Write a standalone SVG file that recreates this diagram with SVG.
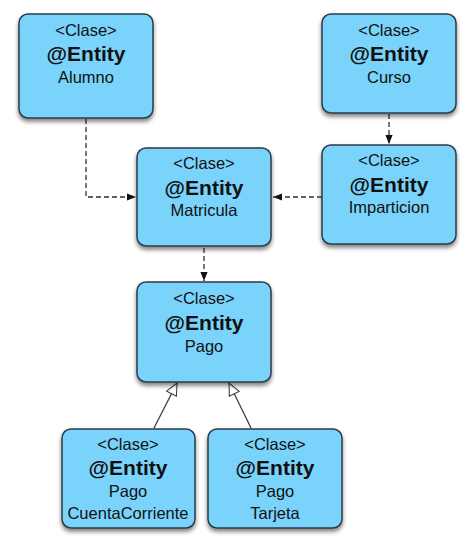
<svg xmlns="http://www.w3.org/2000/svg" width="474" height="550" viewBox="0 0 474 550">
<defs>
<filter id="sh" x="-20%" y="-20%" width="140%" height="140%">
<feGaussianBlur in="SourceAlpha" stdDeviation="2"/>
<feOffset dx="0" dy="3" result="b"/>
<feComponentTransfer><feFuncA type="linear" slope="0.5"/></feComponentTransfer>
<feMerge><feMergeNode/><feMergeNode in="SourceGraphic"/></feMerge>
</filter>
<marker id="ah" viewBox="0 0 10 10" refX="10" refY="5" markerWidth="9" markerHeight="9" markerUnits="userSpaceOnUse" orient="auto">
<path d="M0,1 L10,5 L0,9 Z" fill="#111"/>
</marker>
<marker id="tri" viewBox="0 0 14 14" refX="13" refY="7" markerWidth="14" markerHeight="14" markerUnits="userSpaceOnUse" orient="auto">
<path d="M1,1.5 L13,7 L1,12.5 Z" fill="#fff" stroke="#333" stroke-width="1"/>
</marker>
</defs>
<style>
.box{fill:#7ad3fb;stroke:#2b3b48;stroke-width:1.5;filter:url(#sh)}
.t{font-family:"Liberation Sans",Arial,sans-serif;font-size:16.5px;fill:#111;text-anchor:middle}
.b{font-family:"Liberation Sans",Arial,sans-serif;font-size:21px;font-weight:bold;fill:#111;text-anchor:middle}
.dash{fill:none;stroke:#333;stroke-width:1.3;stroke-dasharray:5,3;marker-end:url(#ah)}
.gen{fill:none;stroke:#333;stroke-width:1.2;marker-end:url(#tri)}
</style>
<rect width="474" height="550" fill="#fff"/>
<g id="connectors">
<path class="dash" d="M86,119 V197 H136"/>
<path class="dash" d="M389,114 V144"/>
<path class="dash" d="M322,197 H273"/>
<path class="dash" d="M204,248 V281"/>
<path class="gen" d="M154,428 L177,383"/>
<path class="gen" d="M251,428 L229,383"/>
</g>
<g id="alumno">
<rect class="box" x="19" y="14" width="134" height="104" rx="9"/>
<text class="t" x="86" y="36">&lt;Clase&gt;</text>
<text class="b" x="86" y="61">@Entity</text>
<text class="t" x="86" y="83">Alumno</text>
</g>
<g id="curso">
<rect class="box" x="322" y="14" width="134" height="99" rx="9"/>
<text class="t" x="389" y="36">&lt;Clase&gt;</text>
<text class="b" x="389" y="61">@Entity</text>
<text class="t" x="389" y="83">Curso</text>
</g>
<g id="matricula">
<rect class="box" x="137" y="148" width="134" height="98" rx="9"/>
<text class="t" x="204" y="169">&lt;Clase&gt;</text>
<text class="b" x="204" y="195">@Entity</text>
<text class="t" x="204" y="216">Matricula</text>
</g>
<g id="imparticion">
<rect class="box" x="322" y="145" width="134" height="99" rx="9"/>
<text class="t" x="389" y="166">&lt;Clase&gt;</text>
<text class="b" x="389" y="192">@Entity</text>
<text class="t" x="389" y="213">Imparticion</text>
</g>
<g id="pago">
<rect class="box" x="137" y="282" width="134" height="100" rx="9"/>
<text class="t" x="204" y="304">&lt;Clase&gt;</text>
<text class="b" x="204" y="330">@Entity</text>
<text class="t" x="204" y="352">Pago</text>
</g>
<g id="pagocuentacorriente">
<rect class="box" x="62" y="429" width="133" height="99" rx="9"/>
<text class="t" x="128" y="450">&lt;Clase&gt;</text>
<text class="b" x="128" y="475">@Entity</text>
<text class="t" x="128" y="497">Pago</text>
<text class="t" x="128" y="519">CuentaCorriente</text>
</g>
<g id="pagotarjeta">
<rect class="box" x="208" y="429" width="134" height="99" rx="9"/>
<text class="t" x="275" y="450">&lt;Clase&gt;</text>
<text class="b" x="275" y="475">@Entity</text>
<text class="t" x="275" y="497">Pago</text>
<text class="t" x="275" y="519">Tarjeta</text>
</g>
</svg>
